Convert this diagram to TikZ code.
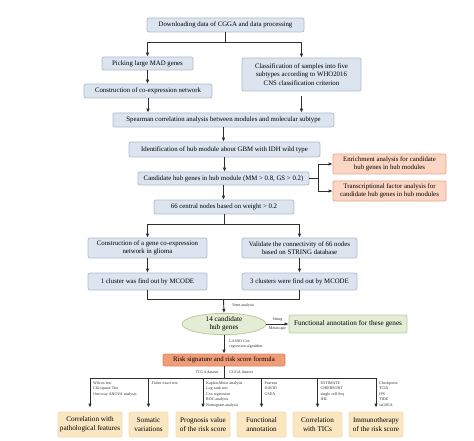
\documentclass[tikz,border=0pt]{standalone}
\usepackage{fontspec}
\setmainfont{Liberation Serif}
\usetikzlibrary{arrows.meta,positioning,shapes.geometric,calc}
\definecolor{BoxBlue}{HTML}{DCE4EF}
\definecolor{LineBlue}{HTML}{AEBCD0}
\definecolor{BoxPeach}{HTML}{FBD6C4}
\definecolor{LinePeach}{HTML}{EFA283}
\definecolor{BoxGreen}{HTML}{E3ECD4}
\definecolor{LineGreen}{HTML}{B9CC9F}
\definecolor{BoxRisk}{HTML}{EF9D79}
\definecolor{LineRisk}{HTML}{E3845E}
\definecolor{BoxSand}{HTML}{FBE6C2}
\definecolor{LineSand}{HTML}{F3DBAB}
\definecolor{Wire}{HTML}{2E2E2E}
\tikzset{
    block/.style = {draw=LineBlue, fill=BoxBlue, rectangle, rounded corners=2pt,
        line width=0.8pt, inner sep=1pt, align=center,
        font=\fontsize{6.8}{8.2}\selectfont},
    peach/.style = {block, draw=LinePeach, fill=BoxPeach},
    greenbox/.style = {block, draw=LineGreen, fill=BoxGreen, font=\fontsize{7.2}{8.5}\selectfont},
    risk/.style = {block, draw=LineRisk, fill=BoxRisk},
    result/.style = {block, draw=LineSand, fill=BoxSand, minimum height=25pt,
        font=\fontsize{7.2}{8.6}\selectfont},
    wire/.style = {draw=Wire, line width=0.9pt},
    arrow/.style = {wire, -{Latex[length=4pt,width=3.6pt]}},
    note/.style = {font=\fontsize{4}{5.5}\selectfont, align=left, inner sep=0pt, text=Wire}
}
\begin{document}
\begin{tikzpicture}[x=1pt,y=-1pt]
\useasboundingbox (0,0) rectangle (474,441);
% upper part
\node[block, minimum width=157pt, minimum height=14pt] (dl) at (225.5,25) {Downloading data of CGGA and data processing};
\node[block, minimum width=91pt, minimum height=13pt] (mad) at (147.5,63.5) {Picking large MAD genes};
\node[block, minimum width=119pt, minimum height=33pt] (who) at (301.5,74.5) {Classification of samples into five\\subtypes according to WHO2016\\CNS classification criterion};
\node[block, minimum width=128pt, minimum height=14pt] (net) at (148,91) {Construction of co-expression network};
\node[block, minimum width=221pt, minimum height=14pt] (spear) at (223.5,120) {Spearman correlation analysis between modules and molecular subtype};
\node[block, minimum width=191pt, minimum height=15pt] (hubmod) at (224.5,149.5) {Identification of hub module about GBM with IDH wild type};
\node[block, minimum width=171pt, minimum height=13pt] (cand) at (223.5,178.5) {Candidate hub genes in hub module (MM > 0.8, GS > 0.2)};
\node[peach, minimum width=113pt, minimum height=20pt] (enrich) at (389.5,164) {Enrichment analysis for candidate\\hub genes in hub modules};
\node[peach, minimum width=113pt, minimum height=20pt] (tf) at (389.5,191) {Transcriptional factor analysis for\\candidate hub genes in hub modules};
\node[block, minimum width=140pt, minimum height=14pt] (central) at (224,207) {66 central nodes based on weight > 0.2};
\node[block, minimum width=119pt, minimum height=20pt] (glioma) at (147.5,248) {Construction of a gene co-expression\\network in glioma};
\node[block, minimum width=115pt, minimum height=20pt] (string) at (299.5,248) {Validate the connectivity of 66 nodes\\based on STRING database};
\node[block, minimum width=119pt, minimum height=17pt] (one) at (147.5,281.5) {1 cluster was find out by MCODE};
\node[block, minimum width=115pt, minimum height=17pt] (three) at (299.5,281.5) {3 clusters were find out by MCODE};
% lower part
\node[ellipse, draw=LineGreen, fill=BoxGreen, line width=0.8pt, minimum width=84pt, minimum height=21pt, inner sep=0pt, align=center, font=\fontsize{7.2}{8.5}\selectfont] (hub14) at (224,324) {14 candidate\\hub genes};
\node[greenbox, minimum width=118pt, minimum height=18pt] (func) at (348,324) {Functional annotation for these genes};
\node[risk, minimum width=122pt, minimum height=12pt] (risk) at (224,360) {Risk signature and risk score formula};
\node[result, minimum width=64pt] (path) at (90,424.5) {Correlation with\\pathological features};
\node[result, minimum width=39pt] (soma) at (148.5,424.5) {Somatic\\variations};
\node[result, minimum width=54pt] (prog) at (203,424.5) {Prognosis value\\of the risk score};
\node[result, minimum width=49pt] (anno) at (261.5,424.5) {Functional\\annotation};
\node[result, minimum width=49pt] (tics) at (317.5,424.5) {Correlation\\with TICs};
\node[result, minimum width=54pt] (immu) at (376,424.5) {Immunotherapy\\of the risk score};
% connectors
\draw[wire] (dl.south) -- ++(0,10) coordinate (dlsplit);
\draw[arrow] (dlsplit) -| (mad.north);
\draw[arrow] (dlsplit) -| (who.north);
\draw[arrow] (mad.south) -- (mad.south |- net.north);
\draw[arrow] (net.south) -- (net.south |- spear.north);
\draw[arrow, shorten <=5pt] (who.south) -- (who.south |- spear.north);
\draw[arrow] (spear.south) -- (spear.south |- hubmod.north);
\draw[arrow] (hubmod.south) -- (hubmod.south |- cand.north);
\draw[arrow] (cand.south) -- (cand.south |- central.north);
\draw[wire] (cand.east) -- ++(9,0) coordinate (candsplit);
\draw[arrow] (candsplit) |- (enrich.west);
\draw[arrow] (candsplit) |- (tf.west);
\draw[wire] (central.south) -- ++(0,10) coordinate (censplit);
\draw[arrow] (censplit) -| (glioma.north);
\draw[arrow] (censplit) -| (string.north);
\draw[arrow] (glioma) -- (one);
\draw[arrow] (string) -- (three);
\draw[wire] (one.south) -- ++(0,9) -| (three.south);
\coordinate (venn) at ($(one.south)!0.5!(three.south)+(0,9)$);
\draw[arrow] (venn) -- (hub14.north) node[note, pos=0.45, anchor=west, xshift=8pt] {Venn analysis};
\draw[arrow] (hub14.east) -- (func.west)
    node[note, midway, above=2pt] {String}
    node[note, midway, below=2pt] {Metascape};
\draw[arrow] (hub14.south) -- (risk.north) node[note, midway, anchor=west, xshift=5pt] {LASSO Cox\\regression algorithm};
\draw[wire] (risk.south) -- ++(0,12) coordinate (riskbus)
    node[note, pos=0.5, anchor=east, xshift=-5pt] {TCGA dataset}
    node[note, pos=0.5, anchor=west, xshift=5pt] {CGGA dataset};
\draw[wire] (path.north |- riskbus) -- (immu.north |- riskbus);
\foreach \b in {path,soma,prog,anno,tics,immu}
    \draw[arrow, shorten >=4pt] (\b.north |- riskbus) -- (\b.north);
% methods beside the drops
\node[note, anchor=north west] (m1) at ($(path.north |- riskbus)+(3,3)$) {Wilcox test\\Chi-square Test\\One-way ANOVA analysis};
\node[note, anchor=north west] (m2) at ($(soma.north |- riskbus)+(3,3)$) {Fisher exact test};
\node[note, anchor=north west] (m3) at ($(prog.north |- riskbus)+(3,3)$) {Kaplan-Meier analysis\\Log-rank test\\Cox regression\\ROC analysis\\Nomogram analysis};
\node[note, anchor=north west] (m4) at ($(anno.north |- riskbus)+(3,3)$) {Pearson\\DAVID\\GSEA};
\node[note, anchor=north west] (m5) at ($(tics.north |- riskbus)+(3,3)$) {ESTIMATE\\CIBERSORT\\single cell Seq\\IHC};
\node[note, anchor=north west] (m6) at ($(immu.north |- riskbus)+(3,3)$) {Checkpoint\\TCIA\\IPS\\TIDE\\ssGSEA};
\end{tikzpicture}
\end{document}
